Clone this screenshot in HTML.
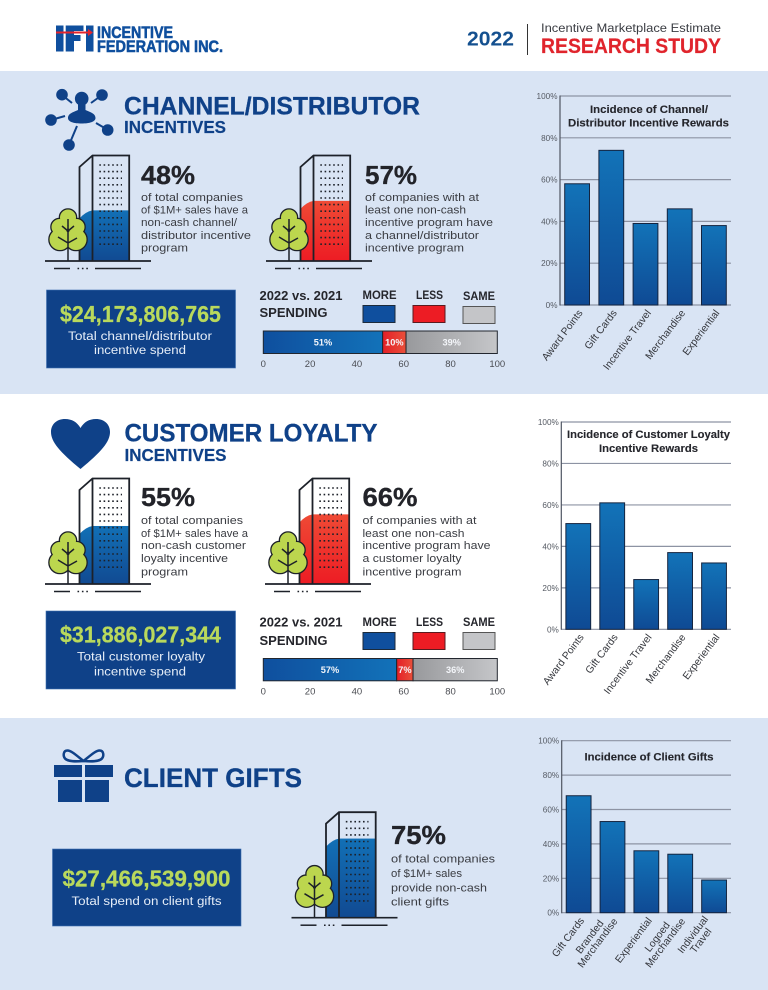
<!DOCTYPE html>
<html lang="en">
<head>
<meta charset="utf-8">
<title>Incentive Marketplace Estimate 2022 Research Study</title>
<style>
html,body{margin:0;padding:0;background:#fff;width:768px;height:990px;overflow:hidden}
svg{display:block}
text{font-family:"Liberation Sans",Arial,sans-serif}
.h1{font-size:25px;font-weight:700;fill:#0f4188;stroke:#0f4188;stroke-width:.3}
.h2{font-size:17.5px;font-weight:700;fill:#0f4188;stroke:#0f4188;stroke-width:.2}
.pct{font-size:26px;font-weight:700;fill:#222329;stroke:#222329;stroke-width:.3}
.body{font-size:11.4px;fill:#3a3c42}
.money{font-size:23.5px;font-weight:700;fill:#b9d95c;stroke:#b9d95c;stroke-width:.25}
.boxt{font-size:12.2px;fill:#e6eef8}
.sp{font-size:13px;font-weight:700;fill:#25262c}
.lg{font-size:12px;font-weight:700;fill:#25262c}
.ct{font-size:11.2px;font-weight:700;fill:#25262c;stroke:#25262c;stroke-width:.12}
.yt{font-size:8.2px;fill:#555a63}
.xt{font-size:10.3px;fill:#34363c}
.st{font-size:9.5px;fill:#4a4c52}
.sv{font-size:9.2px;font-weight:700;fill:#f4f6fa}
</style>
</head>
<body>
<svg id="page" xmlns="http://www.w3.org/2000/svg" width="768" height="990" viewBox="0 0 768 990">
<defs>
<linearGradient id="gBar" x1="0" y1="0" x2="0" y2="1"><stop offset="0" stop-color="#1273b8"/><stop offset="1" stop-color="#0f4a94"/></linearGradient>
<linearGradient id="gBuildBlue" x1="0" y1="0" x2="0" y2="1"><stop offset="0" stop-color="#1270b6"/><stop offset="1" stop-color="#114a92"/></linearGradient>
<linearGradient id="gBuildRed" x1="0" y1="0" x2="0" y2="1"><stop offset="0" stop-color="#ef4a35"/><stop offset="1" stop-color="#ed1c24"/></linearGradient>
<linearGradient id="gMore" x1="0" y1="0" x2="1" y2="0"><stop offset="0" stop-color="#0f4f9e"/><stop offset="1" stop-color="#1272b9"/></linearGradient>
<linearGradient id="gLess" x1="0" y1="0" x2="1" y2="0"><stop offset="0" stop-color="#e41f27"/><stop offset="1" stop-color="#e9503a"/></linearGradient>
<linearGradient id="gSame" x1="0" y1="0" x2="1" y2="0"><stop offset="0" stop-color="#98999c"/><stop offset="1" stop-color="#c5c6c9"/></linearGradient>
</defs>

<rect x="0" y="0" width="768" height="71" fill="#fff"/>
<rect x="0" y="71" width="768" height="323" fill="#d9e4f4"/>
<rect x="0" y="394" width="768" height="324" fill="#fff"/>
<rect x="0" y="718" width="768" height="272" fill="#d9e4f4"/>

<g>
  <rect x="56" y="25.5" width="7.5" height="26" fill="#0f4f9e"/>
  <path d="M65.7 25.5H83.5V31H74V35H80.5V41H74V51.5H65.7Z" fill="#0f4f9e"/>
  <rect x="86" y="25.5" width="7.5" height="26" fill="#0f4f9e"/>
  <path d="M56 31.5H88V29L93 32.5L88 36V33.5H56Z" fill="#e5242b"/>
  <text x="97" y="38" font-size="17" font-weight="700" fill="#0f4f9e" stroke="#0f4f9e" stroke-width=".6" textLength="76" lengthAdjust="spacingAndGlyphs">INCENTIVE</text>
  <text x="97" y="52" font-size="17" font-weight="700" fill="#0f4f9e" stroke="#0f4f9e" stroke-width=".6" textLength="126" lengthAdjust="spacingAndGlyphs">FEDERATION INC.</text>
</g>
<text x="467" y="45.5" font-size="20.5" font-weight="700" fill="#14508f" textLength="47" lengthAdjust="spacingAndGlyphs">2022</text>
<rect x="527" y="24" width="1" height="31" fill="#333"/>
<text x="541" y="32" font-size="12.4" fill="#3a3c42" textLength="180" lengthAdjust="spacingAndGlyphs">Incentive Marketplace Estimate</text>
<text x="541" y="53" font-size="21" font-weight="700" fill="#e0242c" stroke="#e0242c" stroke-width=".2" textLength="180" lengthAdjust="spacingAndGlyphs">RESEARCH STUDY</text>

<!-- Channel section -->
<g fill="#0f4188" stroke="none">
  <g stroke="#0f4188" stroke-width="2">
    <line x1="62" y1="95" x2="72" y2="103"/><line x1="102" y1="95" x2="91" y2="103"/>
    <line x1="51" y1="120" x2="65" y2="116"/><line x1="108" y1="130" x2="96" y2="123"/>
    <line x1="69" y1="145" x2="77" y2="126"/>
  </g>
  <ellipse cx="81.7" cy="98.7" rx="6.8" ry="7"/>
  <path d="M78 103H85.5V110C90 112 95.5 113.5 95.5 118C95.5 122 89 123.5 81.7 123.5C74 123.5 68 122 68 118C68 113.5 73.5 112 78 110Z"/>
  <circle cx="62" cy="94.7" r="5.8"/><circle cx="102" cy="95" r="5.8"/><circle cx="51" cy="120" r="5.8"/><circle cx="107.7" cy="130" r="5.8"/><circle cx="69" cy="145" r="5.8"/>
</g>
<text class="h1" x="124" y="114.5" textLength="296" lengthAdjust="spacingAndGlyphs">CHANNEL/DISTRIBUTOR</text>
<text class="h2" x="124" y="133" textLength="102" lengthAdjust="spacingAndGlyphs">INCENTIVES</text>

<text class="pct" x="141" y="184" textLength="54" lengthAdjust="spacingAndGlyphs">48%</text>
<g>
<text class="body" x="141" y="201" textLength="102" lengthAdjust="spacingAndGlyphs">of total companies</text>
<text class="body" x="141" y="213.5" textLength="107" lengthAdjust="spacingAndGlyphs">of $1M+ sales have a</text>
<text class="body" x="141" y="226" textLength="96" lengthAdjust="spacingAndGlyphs">non-cash channel/</text>
<text class="body" x="141" y="239" textLength="110" lengthAdjust="spacingAndGlyphs">distributor incentive</text>
<text class="body" x="141" y="251.5" textLength="47" lengthAdjust="spacingAndGlyphs">program</text>
</g>
<text class="pct" x="365" y="184" textLength="52" lengthAdjust="spacingAndGlyphs">57%</text>
<g>
<text class="body" x="365" y="201" textLength="114" lengthAdjust="spacingAndGlyphs">of companies with at</text>
<text class="body" x="365" y="213.5" textLength="101" lengthAdjust="spacingAndGlyphs">least one non-cash</text>
<text class="body" x="365" y="226" textLength="128" lengthAdjust="spacingAndGlyphs">incentive program have</text>
<text class="body" x="365" y="239" textLength="114" lengthAdjust="spacingAndGlyphs">a channel/distributor</text>
<text class="body" x="365" y="251.5" textLength="99" lengthAdjust="spacingAndGlyphs">incentive program</text>
</g>

<g>
<rect x="46.5" y="290" width="189" height="78" fill="#0f4188" stroke="#3f70b0" stroke-width=".6"/>
<text class="money" x="60" y="322" textLength="161" lengthAdjust="spacingAndGlyphs">$24,173,806,765</text>
<text class="boxt" x="68" y="340" textLength="144" lengthAdjust="spacingAndGlyphs">Total channel/distributor</text>
<text class="boxt" x="94" y="354" textLength="92" lengthAdjust="spacingAndGlyphs">incentive spend</text>
</g>
<g>
<text class="sp" x="259.5" y="300" textLength="83" lengthAdjust="spacingAndGlyphs">2022 vs. 2021</text>
<text class="sp" x="259.5" y="317" textLength="68" lengthAdjust="spacingAndGlyphs">SPENDING</text>
<text class="lg" x="362.5" y="299" textLength="34" lengthAdjust="spacingAndGlyphs">MORE</text>
<text class="lg" x="416" y="299" textLength="27" lengthAdjust="spacingAndGlyphs">LESS</text>
<text class="lg" x="463" y="300" textLength="32" lengthAdjust="spacingAndGlyphs">SAME</text>
<rect x="363" y="305.5" width="32" height="17" fill="#0f4f9e" stroke="#1c2a3a"/>
<rect x="413" y="305.5" width="32" height="17" fill="#ed1c24" stroke="#5a1a1f"/>
<rect x="463" y="306.5" width="32" height="17" fill="#c4c5c8" stroke="#555"/>
</g>
<g id="channel-stack"></g>
<g id="channel-chart"></g>
<g>
<text class="ct" x="590" y="113" textLength="118" lengthAdjust="spacingAndGlyphs">Incidence of Channel/</text>
<text class="ct" x="568" y="126.7" textLength="161" lengthAdjust="spacingAndGlyphs">Distributor Incentive Rewards</text>
</g>

<!-- Loyalty section -->
<path d="M80.5 469C60 452 51 442 51 432C51 424 57 419 65 419C72 419 77 422 80.5 428C84 422 89 419 96 419C104 419 110 424 110 432C110 442 101 452 80.5 469Z" fill="#0f4188"/>
<text class="h1" x="124.5" y="441.5" textLength="253" lengthAdjust="spacingAndGlyphs">CUSTOMER LOYALTY</text>
<text class="h2" x="124.5" y="461" textLength="102" lengthAdjust="spacingAndGlyphs">INCENTIVES</text>

<text class="pct" x="141" y="506" textLength="54" lengthAdjust="spacingAndGlyphs">55%</text>
<g>
<text class="body" x="141" y="524" textLength="102" lengthAdjust="spacingAndGlyphs">of total companies</text>
<text class="body" x="141" y="537" textLength="107" lengthAdjust="spacingAndGlyphs">of $1M+ sales have a</text>
<text class="body" x="141" y="549" textLength="105" lengthAdjust="spacingAndGlyphs">non-cash customer</text>
<text class="body" x="141" y="562" textLength="87" lengthAdjust="spacingAndGlyphs">loyalty incentive</text>
<text class="body" x="141" y="575.5" textLength="47" lengthAdjust="spacingAndGlyphs">program</text>
</g>
<text class="pct" x="362.5" y="506" textLength="55" lengthAdjust="spacingAndGlyphs">66%</text>
<g>
<text class="body" x="362.5" y="524" textLength="114" lengthAdjust="spacingAndGlyphs">of companies with at</text>
<text class="body" x="362.5" y="537" textLength="102" lengthAdjust="spacingAndGlyphs">least one non-cash</text>
<text class="body" x="362.5" y="549" textLength="128" lengthAdjust="spacingAndGlyphs">incentive program have</text>
<text class="body" x="362.5" y="562" textLength="99" lengthAdjust="spacingAndGlyphs">a customer loyalty</text>
<text class="body" x="362.5" y="575.5" textLength="99" lengthAdjust="spacingAndGlyphs">incentive program</text>
</g>

<g>
<rect x="46" y="611" width="189.5" height="78" fill="#0f4188" stroke="#3f70b0" stroke-width=".6"/>
<text class="money" x="60" y="642.5" textLength="161" lengthAdjust="spacingAndGlyphs">$31,886,027,344</text>
<text class="boxt" x="77" y="660.7" textLength="128" lengthAdjust="spacingAndGlyphs">Total customer loyalty</text>
<text class="boxt" x="94" y="675.7" textLength="92" lengthAdjust="spacingAndGlyphs">incentive spend</text>
</g>
<g>
<text class="sp" x="259.5" y="626.7" textLength="83" lengthAdjust="spacingAndGlyphs">2022 vs. 2021</text>
<text class="sp" x="259.5" y="645" textLength="68" lengthAdjust="spacingAndGlyphs">SPENDING</text>
<text class="lg" x="362.5" y="626" textLength="34" lengthAdjust="spacingAndGlyphs">MORE</text>
<text class="lg" x="416" y="626" textLength="27" lengthAdjust="spacingAndGlyphs">LESS</text>
<text class="lg" x="463" y="626" textLength="32" lengthAdjust="spacingAndGlyphs">SAME</text>
<rect x="363" y="632.5" width="32" height="17" fill="#0f4f9e" stroke="#1c2a3a"/>
<rect x="413" y="632.5" width="32" height="17" fill="#ed1c24" stroke="#5a1a1f"/>
<rect x="463" y="632.5" width="32" height="17" fill="#c4c5c8" stroke="#555"/>
</g>
<g id="loyalty-stack"></g>
<g id="loyalty-chart"></g>
<g>
<text class="ct" x="567" y="438" textLength="163" lengthAdjust="spacingAndGlyphs">Incidence of Customer Loyalty</text>
<text class="ct" x="599" y="452" textLength="99" lengthAdjust="spacingAndGlyphs">Incentive Rewards</text>
</g>

<!-- Gifts section -->
<g>
  <rect x="54" y="765" width="28" height="12" fill="#0f4188"/>
  <rect x="85" y="765" width="28" height="12" fill="#0f4188"/>
  <rect x="58" y="780" width="24" height="22" fill="#0f4188"/>
  <rect x="85" y="780" width="24" height="22" fill="#0f4188"/>
  <path d="M83.5 761C76 755 71 750.5 67.5 750.5C63 750.5 63 756 65 758.5C68 762 77 761.5 83.5 761ZM83.5 761C91 755 96 750.5 99.5 750.5C104 750.5 104 756 102 758.5C99 762 90 761.5 83.5 761Z" fill="none" stroke="#0f4188" stroke-width="2.5"/>
</g>
<text class="h1" style="font-size:27px" x="124" y="787" textLength="178" lengthAdjust="spacingAndGlyphs">CLIENT GIFTS</text>
<g>
<rect x="52.5" y="849" width="188.5" height="77" fill="#0f4188" stroke="#3f70b0" stroke-width=".6"/>
<text class="money" x="62.5" y="886.7" textLength="168" lengthAdjust="spacingAndGlyphs">$27,466,539,900</text>
<text class="boxt" x="71.5" y="905" textLength="150" lengthAdjust="spacingAndGlyphs">Total spend on client gifts</text>
</g>
<text class="pct" x="391" y="844" textLength="55" lengthAdjust="spacingAndGlyphs">75%</text>
<g>
<text class="body" x="391" y="862.7" textLength="104" lengthAdjust="spacingAndGlyphs">of total companies</text>
<text class="body" x="391" y="877" textLength="71" lengthAdjust="spacingAndGlyphs">of $1M+ sales</text>
<text class="body" x="391" y="891.7" textLength="96" lengthAdjust="spacingAndGlyphs">provide non-cash</text>
<text class="body" x="391" y="905.7" textLength="58" lengthAdjust="spacingAndGlyphs">client gifts</text>
</g>
<g id="gifts-chart"></g>
<text class="ct" x="584.5" y="760.5" textLength="129" lengthAdjust="spacingAndGlyphs">Incidence of Client Gifts</text>
<g id="buildings"></g>
</svg>

<script>
// Chart data
const yTicks = [0, 20, 40, 60, 80, 100];
const stackTicks = [0, 20, 40, 60, 80, 100];
const channelCategories = [["Award Points"], ["Gift Cards"], ["Incentive Travel"], ["Merchandise"], ["Experiential"]];
const channelValues = [58, 74, 39, 46, 38];
const loyaltyCategories = [["Award Points"], ["Gift Cards"], ["Incentive Travel"], ["Merchandise"], ["Experiential"]];
const loyaltyValues = [51, 61, 24, 37, 32];
const giftCategories = [["Gift Cards"], ["Branded", "Merchandise"], ["Experiential"], ["Logoed", "Merchandise"], ["Individual", "Travel"]];
const giftValues = [68, 53, 36, 34, 19];
const channelSpending = [51, 10, 39];
const loyaltySpending = [57, 7, 36];
const channelShares = [48, 57];
const loyaltyShares = [55, 66];
const giftShares = [75];

const NS = 'http://www.w3.org/2000/svg';
function make(parent, tag, attrs) {
  const el = document.createElementNS(NS, tag);
  for (const k in attrs) el.setAttribute(k, attrs[k]);
  parent.appendChild(el);
  return el;
}

function drawBarChart(id, categories, values, box) {
  const root = document.getElementById(id);
  
  
  const yScale = v => box.y0 - v / 100 * (box.y0 - box.y100);
  const band = (box.x1 - box.x0) / values.length;
  const xCenter = i => box.x0 + band * (i + 0.5);

  yTicks.forEach(t => {
    const grid = make(root, 'line', {x1: box.x0, x2: box.x1, y1: yScale(t), y2: yScale(t), stroke: '#8d93a3', 'stroke-width': 1.2});
    
    
    const lab = make(root, 'text', {class: 'yt', x: box.x0 - 2.5, y: yScale(t) + 3, 'text-anchor': 'end'});
    
    
    lab.textContent = t + '%';
  });
  const axis = make(root, 'line', {x1: box.x0, x2: box.x0, y1: box.y100 - 0.5, y2: box.y0 + 0.5, stroke: '#4f5562', 'stroke-width': 1.2});
  
  

  values.forEach((v, i) => {
    const bar = make(root, 'rect', {x: xCenter(i) - 12.4, y: yScale(v), width: 24.8, height: box.y0 - yScale(v), fill: 'url(#gBar)', stroke: '#14243f', 'stroke-width': 1});
    
    
  });

  categories.forEach((lines, i) => {
    const g = make(root, 'g', {transform: 'translate(' + (xCenter(i) + 6) + ' ' + (box.y0 + 8) + ') rotate(-53)'});
    
    
    const longest = Math.max.apply(null, lines.map(s => s.length));
    const blockCenter = -longest * 5.5 / 2;
    lines.forEach((s, j) => {
      const anchor = lines.length > 1 ? 'middle' : 'end';
      const tx = lines.length > 1 ? blockCenter : 0;
      const ty = (j - lines.length + 1) * 10;
      const label = make(g, 'text', {class: 'xt', x: tx, y: ty, 'text-anchor': anchor});
      
      
      label.textContent = s;
    });
  });
}

function drawStack(id, values, box) {
  const root = document.getElementById(id);
  
  
  const xScale = v => box.x0 + v / 100 * (box.x1 - box.x0);
  const fills = ['url(#gMore)', 'url(#gLess)', 'url(#gSame)'];
  let cum = 0;
  values.forEach((v, i) => {
    const seg = make(root, 'rect', {x: xScale(cum), y: box.y, width: xScale(cum + v) - xScale(cum), height: box.h, fill: fills[i], stroke: '#22262e', 'stroke-width': 1});
    
    
    const lab = make(root, 'text', {class: 'sv', x: xScale(cum + v / 2), y: box.y + box.h / 2 + 3.2, 'text-anchor': 'middle'});
    
    
    lab.textContent = v + '%';
    cum += v;
  });
  stackTicks.forEach(t => {
    const lab = make(root, 'text', {class: 'st', x: xScale(t), y: box.y + box.h + 13.5, 'text-anchor': 'middle'});
    
    
    lab.textContent = t;
  });
}

function drawBuilding(share, dx, dy, gradient) {
  const root = document.getElementById('buildings');
  const g = make(root, 'g', {transform: 'translate(' + dx + ' ' + dy + ')'});
  
  
  const ground = 261, top = 155.5;
  const fillY = ground - (ground - top) * share / 100;
  const ink = '#1d2129';
  make(g, 'rect', {x: 92.5, y: fillY, width: 36.7, height: ground - fillY, fill: 'url(#' + gradient + ')'});
  make(g, 'path', {d: 'M79.5 ' + (fillY + 8) + 'Q86 ' + (fillY + 1) + ' 92.5 ' + fillY + 'V261H79.5Z', fill: 'url(#' + gradient + ')'});
  for (let r = 0; r < 13; r++) {
    make(g, 'line', {x1: 99.3, x2: 122, y1: 165 + r * 6.6, y2: 165 + r * 6.6, stroke: ink, 'stroke-width': 1.6, 'stroke-dasharray': '1.6 2.7'});
  }
  make(g, 'path', {d: 'M79.5 261V167L92.5 155.5H129.2V261M92.5 155.5V261', fill: 'none', stroke: ink, 'stroke-width': 1.8});
  const blobs = [[68, 217.5, 8], [59.5, 227, 8], [76.5, 227, 8], [60, 239.5, 10.5], [76, 239.5, 10.5]];
  blobs.forEach(b => make(g, 'circle', {cx: b[0], cy: b[1], r: b[2], fill: ink, stroke: ink, 'stroke-width': 2.6}));
  blobs.forEach(b => make(g, 'circle', {cx: b[0], cy: b[1], r: b[2], fill: '#bcd64e'}));
  make(g, 'path', {d: 'M68 219V261M68 231L62 226M68 231L74 226M68 243L58 237M68 243L77 238', fill: 'none', stroke: ink, 'stroke-width': 1.5});
  make(g, 'line', {x1: 45, x2: 151, y1: 261, y2: 261, stroke: ink, 'stroke-width': 1.7});
  make(g, 'line', {x1: 54, x2: 70, y1: 268.5, y2: 268.5, stroke: ink, 'stroke-width': 1.5});
  make(g, 'line', {x1: 77.5, x2: 88, y1: 268.5, y2: 268.5, stroke: ink, 'stroke-width': 1.5, 'stroke-dasharray': '1.6 2.8'});
  make(g, 'line', {x1: 95, x2: 141, y1: 268.5, y2: 268.5, stroke: ink, 'stroke-width': 1.5});
}

drawBarChart('channel-chart', channelCategories, channelValues, {x0: 560, x1: 731, y0: 305, y100: 96});
drawBarChart('loyalty-chart', loyaltyCategories, loyaltyValues, {x0: 561.3, x1: 731, y0: 629.3, y100: 422});
drawBarChart('gifts-chart', giftCategories, giftValues, {x0: 561.7, x1: 731, y0: 912.7, y100: 740.7});
drawStack('channel-stack', channelSpending, {x0: 263.3, x1: 497.3, y: 331, h: 22.5});
drawStack('loyalty-stack', loyaltySpending, {x0: 263.3, x1: 497.3, y: 658.5, h: 22.3});
drawBuilding(channelShares[0], 0, 0, 'gBuildBlue');
drawBuilding(channelShares[1], 221, 0, 'gBuildRed');
drawBuilding(loyaltyShares[0], 0, 323, 'gBuildBlue');
drawBuilding(loyaltyShares[1], 220, 323, 'gBuildRed');
drawBuilding(giftShares[0], 246.5, 656.7, 'gBuildBlue');
</script>
</body>
</html>
